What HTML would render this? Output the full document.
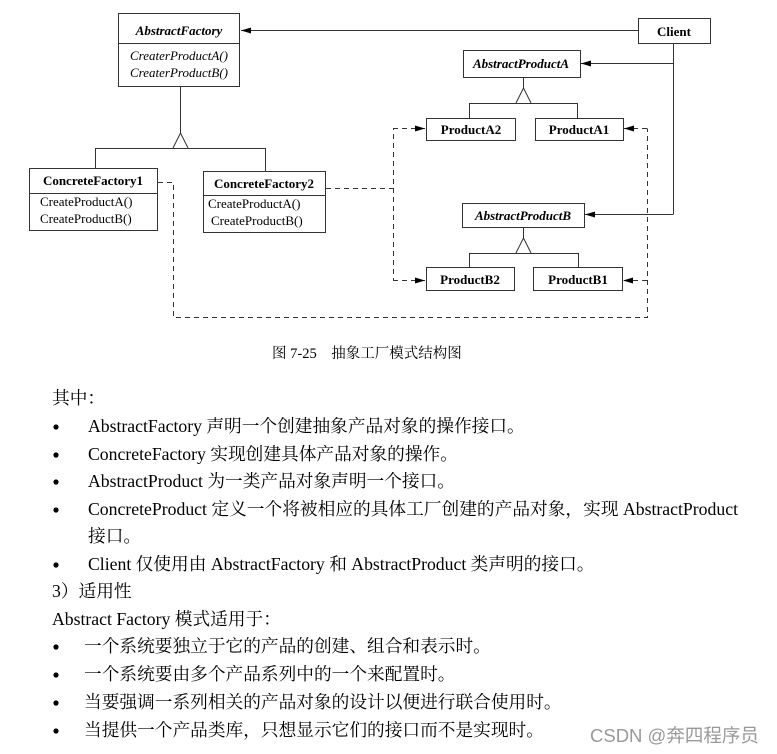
<!DOCTYPE html>
<html><head><meta charset="utf-8"><style>
body{margin:0;background:#fff;}
svg{display:block}
.t{font-family:"Liberation Serif","Noto Serif CJK SC",serif;fill:#000}
</style></head><body>
<svg width="777" height="754" viewBox="0 0 777 754" xmlns="http://www.w3.org/2000/svg">
<defs>
<marker id="ar" viewBox="0 0 10 6" refX="10" refY="3" markerWidth="10" markerHeight="6" orient="auto" markerUnits="userSpaceOnUse"><path d="M0,0 L10,3 L0,6 z" fill="#000"/></marker>
</defs>
<g fill="none" stroke="#333" stroke-width="1">
<rect x="118.5" y="13.5" width="121" height="73"/>
<line x1="118" y1="43.5" x2="240" y2="43.5"/>
<rect x="29.5" y="168.5" width="128" height="62"/>
<line x1="29" y1="193.5" x2="158" y2="193.5"/>
<rect x="203.5" y="171.5" width="122" height="61"/>
<line x1="203" y1="195.5" x2="326" y2="195.5"/>
<line x1="180.5" y1="86" x2="180.5" y2="133"/>
<path d="M173,148 L180.5,133 L188,148"/>
<line x1="95.5" y1="148.5" x2="265.5" y2="148.5"/>
<line x1="95.5" y1="148" x2="95.5" y2="168"/>
<line x1="265.5" y1="148" x2="265.5" y2="171"/>
<rect x="638.5" y="18.5" width="72" height="25"/>
<line x1="638" y1="30.5" x2="241" y2="30.5" marker-end="url(#ar)"/>
<line x1="673.5" y1="43" x2="673.5" y2="214.5"/>
<line x1="673" y1="63.5" x2="581" y2="63.5" marker-end="url(#ar)"/>
<line x1="673" y1="214.5" x2="585" y2="214.5" marker-end="url(#ar)"/>
<rect x="463.5" y="50.5" width="117" height="27"/>
<line x1="523.5" y1="77" x2="523.5" y2="88"/>
<path d="M516,103 L523.5,88 L531,103"/>
<line x1="469.5" y1="103.5" x2="577.5" y2="103.5"/>
<line x1="469.5" y1="103" x2="469.5" y2="118"/>
<line x1="577.5" y1="103" x2="577.5" y2="118"/>
<rect x="426.5" y="118.5" width="89" height="22"/>
<rect x="535.5" y="118.5" width="88" height="22"/>
<rect x="462.5" y="203.5" width="122" height="24"/>
<line x1="523.5" y1="227" x2="523.5" y2="238"/>
<path d="M516,253 L523.5,238 L531,253"/>
<line x1="469.5" y1="253.5" x2="578.5" y2="253.5"/>
<line x1="469.5" y1="253" x2="469.5" y2="267"/>
<line x1="578.5" y1="253" x2="578.5" y2="267"/>
<rect x="426.5" y="267.5" width="88" height="23"/>
<rect x="533.5" y="267.5" width="89" height="23"/>
</g>
<g fill="none" stroke="#333" stroke-width="1" stroke-dasharray="5,4">
<path d="M326,188.5 H393.5 V128.5"/>
<path d="M393.5,188 V280.5"/>
<line x1="393" y1="128.5" x2="425" y2="128.5" marker-end="url(#ar)"/>
<line x1="393" y1="280.5" x2="425" y2="280.5" marker-end="url(#ar)"/>
<path d="M158,182.5 H173.5 V317.5 H647.5 V128.5"/>
<line x1="647" y1="128.5" x2="624" y2="128.5" marker-end="url(#ar)"/>
<line x1="647" y1="280.5" x2="623" y2="280.5" marker-end="url(#ar)"/>
</g>
<g class="t" font-size="13">
<text x="179" y="35" text-anchor="middle" font-style="italic" font-weight="bold">AbstractFactory</text>
<text x="179" y="60" text-anchor="middle" font-style="italic">CreaterProductA()</text>
<text x="179" y="77" text-anchor="middle" font-style="italic">CreaterProductB()</text>
<text x="93" y="185" text-anchor="middle" font-weight="bold">ConcreteFactory1</text>
<text x="40" y="206">CreateProductA()</text>
<text x="40" y="223">CreateProductB()</text>
<text x="264" y="188" text-anchor="middle" font-weight="bold">ConcreteFactory2</text>
<text x="208" y="208">CreateProductA()</text>
<text x="211" y="225">CreateProductB()</text>
<text x="674" y="36" text-anchor="middle" font-weight="bold">Client</text>
<text x="521" y="68" text-anchor="middle" font-style="italic" font-weight="bold">AbstractProductA</text>
<text x="471" y="134" text-anchor="middle" font-weight="bold">ProductA2</text>
<text x="579" y="134" text-anchor="middle" font-weight="bold">ProductA1</text>
<text x="523" y="220" text-anchor="middle" font-style="italic" font-weight="bold">AbstractProductB</text>
<text x="470" y="284" text-anchor="middle" font-weight="bold">ProductB2</text>
<text x="578" y="284" text-anchor="middle" font-weight="bold">ProductB1</text>
</g>
<g class="t" font-size="14.5">
<text x="272" y="358">图 7-25　抽象工厂模式结构图</text>
</g>
<g fill="#000">
<circle cx="56" cy="427" r="2.6"/><circle cx="56" cy="455" r="2.6"/><circle cx="56" cy="482" r="2.6"/>
<circle cx="56" cy="510" r="2.6"/><circle cx="56" cy="565" r="2.6"/>
<circle cx="56" cy="647" r="2.6"/><circle cx="56" cy="675" r="2.6"/><circle cx="56" cy="703" r="2.6"/><circle cx="56" cy="731" r="2.6"/>
</g>
<g class="t" font-size="17.7">
<text x="52" y="404">其中：</text>
<text x="88" y="432">AbstractFactory 声明一个创建抽象产品对象的操作接口。</text>
<text x="88" y="460">ConcreteFactory 实现创建具体产品对象的操作。</text>
<text x="88" y="487">AbstractProduct 为一类产品对象声明一个接口。</text>
<text x="88" y="515" textLength="650" lengthAdjust="spacingAndGlyphs">ConcreteProduct 定义一个将被相应的具体工厂创建的产品对象，实现 AbstractProduct</text>
<text x="88" y="542">接口。</text>
<text x="88" y="570">Client 仅使用由 AbstractFactory 和 AbstractProduct 类声明的接口。</text>
<text x="52" y="597">3）适用性</text>
<text x="52" y="625">Abstract Factory 模式适用于：</text>
<text x="84" y="652">一个系统要独立于它的产品的创建、组合和表示时。</text>
<text x="84" y="680">一个系统要由多个产品系列中的一个来配置时。</text>
<text x="84" y="708">当要强调一系列相关的产品对象的设计以便进行联合使用时。</text>
<text x="84" y="736">当提供一个产品类库，只想显示它们的接口而不是实现时。</text>
</g>
<text x="590" y="742" font-family="'Liberation Sans','Noto Sans CJK SC',sans-serif" font-size="18.5" fill="#999">CSDN @奔四程序员</text>
</svg>
</body></html>
